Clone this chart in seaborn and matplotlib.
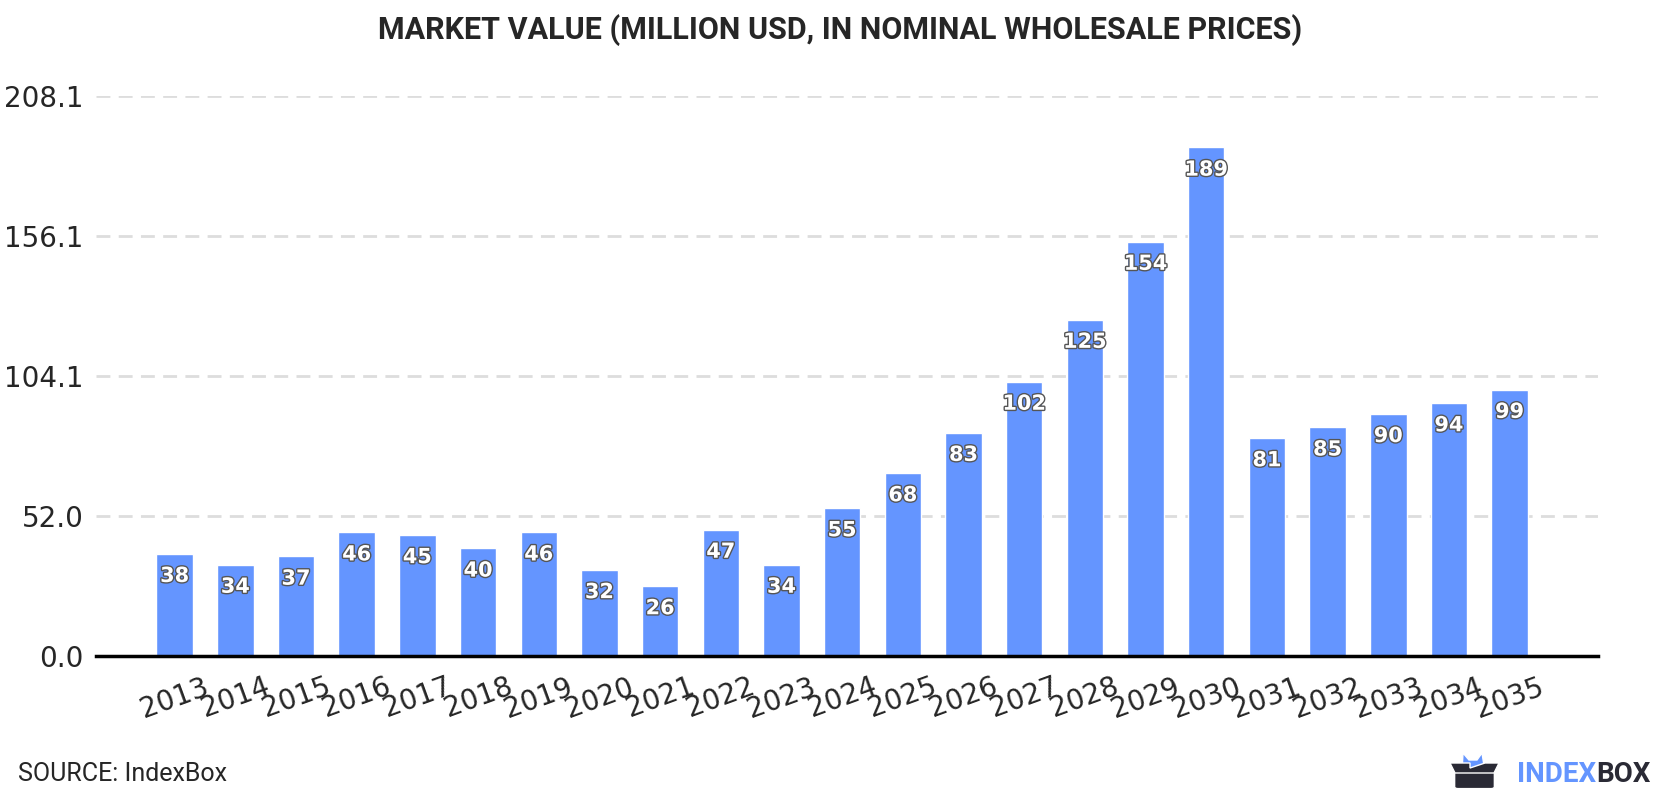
import numpy as np
import pandas as pd
import matplotlib
matplotlib.use('Agg')
import matplotlib.pyplot as plt
import matplotlib.patheffects as pe
from matplotlib.patches import Polygon, FancyBboxPatch
import seaborn as sns

years = [str(y) for y in range(2013, 2036)]
values = [38, 34, 37, 46, 45, 40, 46, 32, 26, 47, 34, 55, 68, 83, 102,
          125, 154, 189, 81, 85, 90, 94, 99]
yticks = [0.0, 52.0, 104.1, 156.1, 208.1]

df = pd.DataFrame({'year': years, 'value': values})

sns.set_style('white')
plt.rcParams['font.family'] = ['DejaVu Sans']

W, H = 1680, 800
fig = plt.figure(figsize=(16.8, 8), dpi=100)
ax = fig.add_axes([0.057, 0.18, 0.894, 0.70])

sns.barplot(data=df, x='year', y='value', color='#6495ff', width=0.6,
            saturation=1, ax=ax)

for i, v in enumerate(values):
    ax.annotate(str(v), (i, v), xytext=(0, -16), textcoords='offset points',
                ha='center', va='center', fontsize=15, fontweight='bold',
                color='white',
                path_effects=[pe.withStroke(linewidth=2, foreground='#555555')])

ax.set_ylim(0, yticks[-1])
ax.set_xlim(-1.3, len(years) - 1 + 1.45)
ax.set_yticks(yticks)
ax.set_yticklabels([f'{t:.1f}' for t in yticks], fontsize=20)
ax.tick_params(axis='x', labelsize=20, rotation=20, length=6, width=2, pad=6)
ax.tick_params(axis='y', length=6, width=2, pad=3)
for lbl in ax.get_xticklabels():
    lbl.set_ha('center')
ax.yaxis.grid(True, linestyle=(0, (5, 3)), color='#dddddd', linewidth=2)
ax.set_axisbelow(True)
for s in ['top', 'right', 'left']:
    ax.spines[s].set_visible(False)
ax.spines['bottom'].set_linewidth(2.5)
ax.spines['bottom'].set_color('black')
ax.set_xlabel('')
ax.set_ylabel('')

fig.text(0.5, 0.962, 'MARKET VALUE (MILLION USD, IN NOMINAL WHOLESALE PRICES)',
         ha='center', va='center', fontsize=22, fontweight='bold',
         family='Roboto')
fig.text(0.011, 0.032, 'SOURCE: IndexBox', ha='left', va='center',
         fontsize=18, family='Roboto')

# logo
t1 = fig.text(1517 / W, 1 - 774 / H, 'INDEX', ha='left', va='center',
              fontsize=20, fontweight='bold', family='Roboto', color='#6495ff')
fig.canvas.draw()
bb = t1.get_window_extent()
fig.text(bb.x1 / W, 1 - 774 / H, 'BOX', ha='left', va='center', fontsize=20,
         fontweight='bold', family='Roboto', color='#2a2a35')


def fpts(pts):
    return [[x / W, 1 - y / H] for x, y in pts]


fig.patches.append(Polygon(fpts([(1462, 772), (1463, 753), (1469, 760),
                                 (1477, 760), (1482, 753), (1485, 772)]),
                           closed=True, transform=fig.transFigure,
                           facecolor='#6495ff'))
fig.patches.append(FancyBboxPatch((1458 / W, 1 - 787 / H), 33 / W, 17 / H,
                                  boxstyle='round,pad=0.002',
                                  transform=fig.transFigure,
                                  facecolor='#2a2a35'))
fig.patches.append(Polygon(fpts([(1450, 763), (1470, 763), (1470, 768),
                                 (1485, 763), (1499, 763), (1494, 773),
                                 (1455, 773)]),
                           closed=True, transform=fig.transFigure,
                           facecolor='#2a2a35'))

fig.savefig('out.png', dpi=100)
